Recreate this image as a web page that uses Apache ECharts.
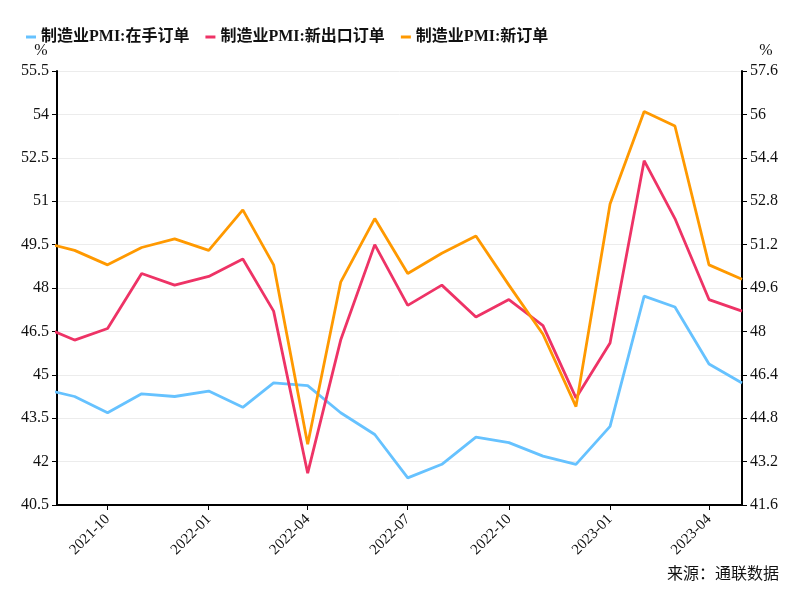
<!DOCTYPE html>
<html>
<head>
<meta charset="utf-8">
<script src="https://cdn.jsdelivr.net/npm/echarts@6/dist/echarts.min.js"></script>
<style>
  html, body { margin: 0; padding: 0; background: #fff; }
  #main { width: 800px; height: 600px; }
</style>
</head>
<body>
<div id="main"></div>
<script>
// 月份（每月1日）
var months = [
  '2021-08-01', '2021-09-01', '2021-10-01', '2021-11-01', '2021-12-01',
  '2022-01-01', '2022-02-01', '2022-03-01', '2022-04-01', '2022-05-01',
  '2022-06-01', '2022-07-01', '2022-08-01', '2022-09-01', '2022-10-01',
  '2022-11-01', '2022-12-01', '2023-01-01', '2023-02-01', '2023-03-01',
  '2023-04-01', '2023-05-01'
];
// 制造业PMI:在手订单（右轴）
var backlog = [45.9, 45.6, 45.0, 45.7, 45.6, 45.8, 45.2, 46.1, 46.0, 45.0,
  44.2, 42.6, 43.1, 44.1, 43.9, 43.4, 43.1, 44.5, 49.3, 48.9, 46.8, 46.1];
// 制造业PMI:新出口订单（左轴）
var exportOrders = [46.7, 46.2, 46.6, 48.5, 48.1, 48.4, 49.0, 47.2, 41.6, 46.2,
  49.5, 47.4, 48.1, 47.0, 47.6, 46.7, 44.2, 46.1, 52.4, 50.4, 47.6, 47.2];
// 制造业PMI:新订单（左轴）
var newOrders = [49.6, 49.3, 48.8, 49.4, 49.7, 49.3, 50.7, 48.8, 42.6, 48.2,
  50.4, 48.5, 49.2, 49.8, 48.1, 46.4, 43.9, 50.9, 54.1, 53.6, 48.8, 48.3];
// x轴刻度
var xTicks = ['2021-10-01', '2022-01-01', '2022-04-01', '2022-07-01',
  '2022-10-01', '2023-01-01', '2023-04-01'];

function ts(s) {
  var p = s.split('-');
  return Date.UTC(+p[0], +p[1] - 1, +p[2]);
}
function pairs(arr) {
  return arr.map(function (v, i) { return [ts(months[i]), v]; });
}
var tickTimes = xTicks.map(ts);

var serif = '"Liberation Serif", "Times New Roman", "Noto Sans CJK SC", serif';
var axisLine = { show: true, lineStyle: { color: '#000', width: 2 } };
var axisTick = { show: true, length: 5, lineStyle: { color: '#000', width: 1 } };

var myChart = echarts.init(document.getElementById('main'));
myChart.setOption({
  animation: false,
  color: ['#66c2ff', '#ee3366', '#ff9900'],
  grid: { left: 57, right: 58, top: 71, bottom: 95, containLabel: false },
  legend: {
    left: 21,
    top: 24,
    itemWidth: 10,
    itemHeight: 3,
    itemGap: 16,
    icon: 'rect',
    textStyle: {
      fontFamily: '"Liberation Serif", "Noto Sans CJK SC", serif',
      fontWeight: 'bold',
      fontSize: 16,
      color: '#111'
    },
    data: ['制造业PMI:在手订单', '制造业PMI:新出口订单', '制造业PMI:新订单']
  },
  graphic: [{
    type: 'text',
    right: 21,
    top: 565,
    style: {
      text: '来源：通联数据',
      font: '16px "Noto Sans CJK SC", sans-serif',
      fill: '#111'
    }
  }],
  xAxis: {
    type: 'value',
    min: ts('2021-08-16'),
    max: ts('2023-05-01'),
    axisLine: axisLine,
    axisTick: { show: true, length: 5, customValues: tickTimes, lineStyle: { color: '#000' } },
    splitLine: { show: false },
    axisLabel: {
      customValues: tickTimes,
      rotate: 45,
      margin: 12,
      fontFamily: serif,
      fontSize: 15,
      color: '#111',
      formatter: function (v) {
        var d = new Date(v);
        var m = d.getUTCMonth() + 1;
        return d.getUTCFullYear() + '-' + (m < 10 ? '0' + m : m);
      }
    }
  },
  yAxis: [
    {
      type: 'value',
      name: '%',
      nameGap: 12,
      nameTextStyle: { fontFamily: serif, fontSize: 16, color: '#111', padding: [0, 32, 0, 0] },
      min: 40.5,
      max: 55.5,
      interval: 1.5,
      axisLine: axisLine,
      axisTick: axisTick,
      splitLine: { show: true, lineStyle: { color: '#ececec', width: 1 } },
      axisLabel: { fontFamily: serif, fontSize: 16, color: '#111', margin: 8 }
    },
    {
      type: 'value',
      name: '%',
      nameGap: 12,
      nameTextStyle: { fontFamily: serif, fontSize: 16, color: '#111', padding: [0, 0, 0, 48] },
      min: 41.6,
      max: 57.6,
      interval: 1.6,
      axisLine: axisLine,
      axisTick: axisTick,
      splitLine: { show: false },
      axisLabel: {
        fontFamily: serif, fontSize: 16, color: '#111', margin: 8,
        formatter: function (v) { return +v.toFixed(1); }
      }
    }
  ],
  series: [
    {
      name: '制造业PMI:在手订单',
      type: 'line',
      yAxisIndex: 1,
      data: pairs(backlog),
      showSymbol: false,
      lineStyle: { width: 2.8 }
    },
    {
      name: '制造业PMI:新出口订单',
      type: 'line',
      yAxisIndex: 0,
      data: pairs(exportOrders),
      showSymbol: false,
      lineStyle: { width: 2.8 }
    },
    {
      name: '制造业PMI:新订单',
      type: 'line',
      yAxisIndex: 0,
      data: pairs(newOrders),
      showSymbol: false,
      lineStyle: { width: 2.8 }
    }
  ]
});
</script>
</body>
</html>
